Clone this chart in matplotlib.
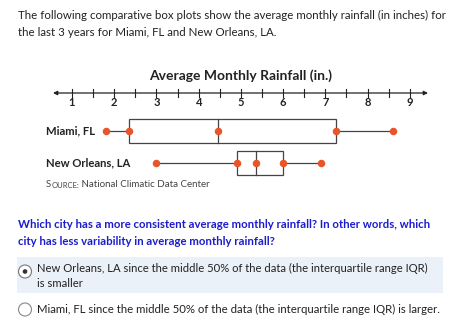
import matplotlib
matplotlib.use('Agg')
import matplotlib.pyplot as plt
from matplotlib.patches import Rectangle, Circle

# five-number summaries (inches)
cities = ['Miami, FL', 'New Orleans, LA']
mins = [1.8, 3.0]
q1s = [2.35, 4.9]
medians = [4.45, 5.35]
q3s = [7.25, 6.0]
maxs = [8.6, 6.9]
ticks = [1, 2, 3, 4, 5, 6, 7, 8, 9]
minor_ticks = [1.5, 2.5, 3.5, 4.5, 5.5, 6.5, 7.5, 8.5]

intro = ("The following comparative box plots show the average monthly rainfall (in inches) for\n"
         "the last 3 years for Miami, FL and New Orleans, LA.")
question = ("Which city has a more consistent average monthly rainfall? In other words, which\n"
            "city has less variability in average monthly rainfall?")
option_a = ("New Orleans, LA since the middle 50% of the data (the interquartile range IQR)\n"
            "is smaller")
option_b = "Miami, FL since the middle 50% of the data (the interquartile range IQR) is larger."

W, H = 474, 322
plt.rcParams['font.family'] = ['Lato', 'DejaVu Sans']
fig = plt.figure(figsize=(W / 100, H / 100), dpi=100)
fig.patch.set_facecolor('white')

# page-level axes in pixel coordinates (y down)
page = fig.add_axes([0, 0, 1, 1])
page.set_xlim(0, W)
page.set_ylim(H, 0)
page.axis('off')

txt = '#222222'
page.text(18, 24, intro, fontsize=8.3, color=txt, va='center', linespacing=1.75)
page.text(18, 233, question, fontsize=8.2, color='#1c1ccf', fontweight='bold',
          va='center', linespacing=1.75)
page.add_patch(Rectangle((17, 257), 426, 36, facecolor='#eaf1f9', edgecolor='none'))
page.text(37, 276, option_a, fontsize=8.15, color=txt, va='center', linespacing=1.45)
page.text(37, 309, option_b, fontsize=8.2, color=txt, va='center')
page.add_patch(Circle((25, 271.5), 6.5, facecolor='white', edgecolor='#777777', lw=0.8))
page.add_patch(Circle((25, 271.5), 2.3, facecolor='#333333', edgecolor='none'))
page.add_patch(Circle((25, 309.5), 6.5, facecolor='white', edgecolor='#888888', lw=0.8))

# box plot axes: x in data units, y in pixels
x0, x1 = 53, 428
ax = fig.add_axes([x0 / W, 1 - 190 / H, (x1 - x0) / W, 125 / H])
ax.set_xlim(0.55, 9.43)
ax.set_ylim(190, 65)
ax.axis('off')
ax.patch.set_alpha(0)

ax.text(5.0, 76, 'Average Monthly Rainfall (in.)', ha='center', va='center',
        fontsize=10, fontweight='bold', color='#222222')
line_y = 93
ax.annotate('', xy=(9.43, line_y), xytext=(0.55, line_y),
            arrowprops=dict(arrowstyle='<|-|>', color='#222222', lw=0.9,
                            mutation_scale=6, shrinkA=0, shrinkB=0))
for t in ticks + minor_ticks:
    ax.plot([t, t], [line_y - 4, line_y + 4], color='#222222', lw=0.8)
for t in ticks:
    ax.text(t, 103, str(t), ha='center', va='center', fontsize=8,
            fontweight='bold', color='#222222')

dot = '#e8552b'
rows = [131, 163]
half = 12.3
for i, y in enumerate(rows):
    ax.add_patch(Rectangle((q1s[i], y - half), q3s[i] - q1s[i], 2 * half,
                           facecolor='none', edgecolor='#444444', lw=0.9))
    ax.plot([medians[i], medians[i]], [y - half, y + half], color='#444444', lw=0.9)
    ax.plot([mins[i], q1s[i]], [y, y], color='#444444', lw=0.9)
    ax.plot([q3s[i], maxs[i]], [y, y], color='#444444', lw=0.9)
    ax.plot([mins[i], q1s[i], medians[i], q3s[i], maxs[i]], [y] * 5, 'o',
            color=dot, ms=4.4, zorder=5)
    page.text(46, y, cities[i], fontsize=8.1, fontweight='bold', color='#222222',
              va='center', ha='left')

s = page.text(46, 187, 'S', fontsize=7, color='#444444', va='baseline')
c = page.annotate('OURCE:', xy=(1, 0), xycoords=s, fontsize=5.5, color='#444444',
                  va='bottom')
page.annotate(' National Climatic Data Center', xy=(1, 0), xycoords=c,
              fontsize=7, color='#444444', va='bottom')

fig.savefig('out.png', dpi=100, facecolor='white')
